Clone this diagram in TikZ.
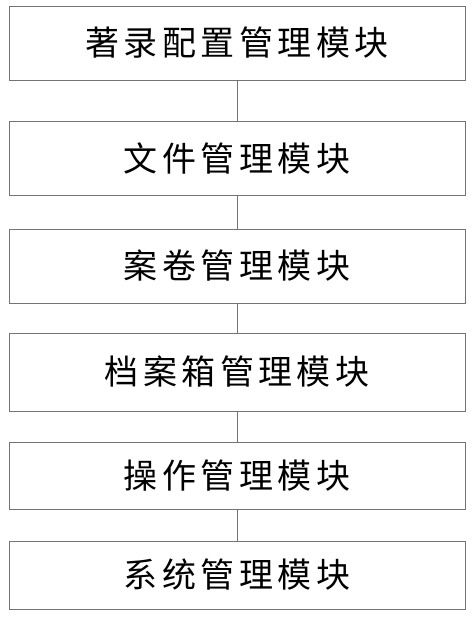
\documentclass[tikz,border=0pt]{standalone}
\usepackage{fontspec}
\newfontfamily\cjk[LetterSpace=13]{Noto Sans CJK SC}
\tikzset{modbox/.style={draw=black!55, line width=0.9pt, minimum width=456pt, font=\cjk\fontsize{34}{34}\selectfont, inner sep=0pt}}
\tikzset{link/.style={draw=black!55, line width=0.9pt}}

\begin{document}
\begin{tikzpicture}[x=1pt, y=-1pt]
      \useasboundingbox (0, 0) rectangle (474, 617);

      \node [modbox, minimum height=74pt] (zhulu) at (237, 43) {著录配置管理模块};
      \node [modbox, minimum height=74pt] (wenjian) at (237, 158) {文件管理模块};
      \node [modbox, minimum height=74pt] (anjuan) at (237, 266) {案卷管理模块};
      \node [modbox, minimum height=78pt] (danganxiang) at (237, 372) {档案箱管理模块};
      \node [modbox, minimum height=67pt] (caozuo) at (237, 475.5) {操作管理模块};
      \node [modbox, minimum height=68pt] (xitong) at (237, 575) {系统管理模块};

      \draw [link] (zhulu) -- (wenjian);
      \draw [link] (wenjian) -- (anjuan);
      \draw [link] (anjuan) -- (danganxiang);
      \draw [link] (danganxiang) -- (caozuo);
      \draw [link] (caozuo) -- (xitong);
    \end{tikzpicture}
\end{document}
